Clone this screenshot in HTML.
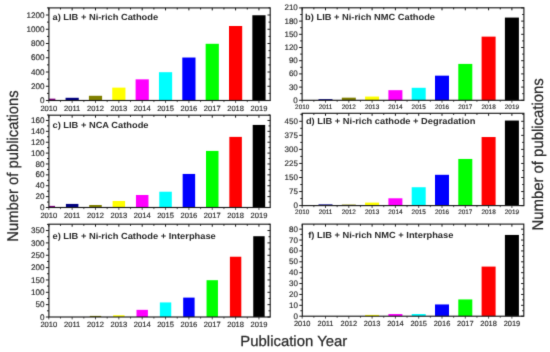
<!DOCTYPE html><html><head><meta charset="utf-8"><title>Publications per year</title>
<style>html,body{margin:0;padding:0;background:#fff}svg{display:block}text{font-family:"Liberation Sans",Arial,sans-serif;text-rendering:geometricPrecision}</style></head><body>
<svg width="550" height="352" viewBox="0 0 550 352">
<defs><filter id="soft" x="0" y="0" width="550" height="352" filterUnits="userSpaceOnUse" color-interpolation-filters="sRGB"><feConvolveMatrix order="3" kernelMatrix="0.0113 0.0836 0.0113 0.0836 0.6196 0.0836 0.0113 0.0836 0.0113" divisor="1" edgeMode="duplicate" preserveAlpha="false"/></filter></defs>
<rect width="550" height="352" fill="#fff"/>
<g filter="url(#soft)">
<rect width="550" height="352" fill="#fff"/>
<g id="panel-a">
<rect x="48.90" y="98.64" width="6.50" height="1.86" fill="#800080"/>
<rect x="65.55" y="97.78" width="13.20" height="2.72" fill="#000080"/>
<rect x="88.90" y="95.78" width="13.20" height="4.72" fill="#808000"/>
<rect x="112.25" y="87.63" width="13.20" height="12.87" fill="#ffff00"/>
<rect x="135.60" y="79.34" width="13.20" height="21.16" fill="#ff00ff"/>
<rect x="158.95" y="72.19" width="13.20" height="28.31" fill="#00ffff"/>
<rect x="182.30" y="57.53" width="13.20" height="42.97" fill="#0000ff"/>
<rect x="205.65" y="43.80" width="13.20" height="56.70" fill="#00ff00"/>
<rect x="229.00" y="26.00" width="13.20" height="74.50" fill="#ff0000"/>
<rect x="252.35" y="15.27" width="13.20" height="85.23" fill="#000000"/>
<rect x="48.90" y="7.90" width="221.30" height="92.60" fill="none" stroke="#1c1c1c" stroke-width="1.15"/>
<path d="M48.80 7.90v2.5 M60.47 7.90v1.6 M72.15 7.90v2.5 M83.83 7.90v1.6 M95.50 7.90v2.5 M107.17 7.90v1.6 M118.85 7.90v2.5 M130.53 7.90v1.6 M142.20 7.90v2.5 M153.88 7.90v1.6 M165.55 7.90v2.5 M177.23 7.90v1.6 M188.90 7.90v2.5 M200.58 7.90v1.6 M212.25 7.90v2.5 M223.93 7.90v1.6 M235.60 7.90v2.5 M247.28 7.90v1.6 M258.95 7.90v2.5 M48.90 100.50h-3 M270.20 100.50h-2.7 M48.90 93.38h-1.9 M270.20 93.38h-1.7 M48.90 86.25h-3 M270.20 86.25h-2.7 M48.90 79.12h-1.9 M270.20 79.12h-1.7 M48.90 72.00h-3 M270.20 72.00h-2.7 M48.90 64.88h-1.9 M270.20 64.88h-1.7 M48.90 57.75h-3 M270.20 57.75h-2.7 M48.90 50.63h-1.9 M270.20 50.63h-1.7 M48.90 43.50h-3 M270.20 43.50h-2.7 M48.90 36.38h-1.9 M270.20 36.38h-1.7 M48.90 29.25h-3 M270.20 29.25h-2.7 M48.90 22.12h-1.9 M270.20 22.12h-1.7 M48.90 15.00h-3 M270.20 15.00h-2.7 M48.90 7.88h-1.9 M270.20 7.88h-1.7" stroke="#1c1c1c" stroke-width="1" fill="none"/>
<path d="M48.80 100.50v2.4 M60.47 100.50v1.6 M72.15 100.50v2.4 M83.83 100.50v1.6 M95.50 100.50v2.4 M107.17 100.50v1.6 M118.85 100.50v2.4 M130.53 100.50v1.6 M142.20 100.50v2.4 M153.88 100.50v1.6 M165.55 100.50v2.4 M177.23 100.50v1.6 M188.90 100.50v2.4 M200.58 100.50v1.6 M212.25 100.50v2.4 M223.93 100.50v1.6 M235.60 100.50v2.4 M247.28 100.50v1.6 M258.95 100.50v2.4" stroke="#1c1c1c" stroke-width="0.75" fill="none"/>
<text x="44.55" y="103.12" font-size="8.15" text-anchor="end" fill="#2a2a2a" stroke="#2a2a2a" stroke-width="0.15">0</text>
<text x="44.55" y="88.87" font-size="8.15" text-anchor="end" fill="#2a2a2a" stroke="#2a2a2a" stroke-width="0.15">200</text>
<text x="44.55" y="74.62" font-size="8.15" text-anchor="end" fill="#2a2a2a" stroke="#2a2a2a" stroke-width="0.15">400</text>
<text x="44.55" y="60.37" font-size="8.15" text-anchor="end" fill="#2a2a2a" stroke="#2a2a2a" stroke-width="0.15">600</text>
<text x="44.55" y="46.12" font-size="8.15" text-anchor="end" fill="#2a2a2a" stroke="#2a2a2a" stroke-width="0.15">800</text>
<text x="44.55" y="31.87" font-size="8.15" text-anchor="end" fill="#2a2a2a" stroke="#2a2a2a" stroke-width="0.15">1000</text>
<text x="44.55" y="17.62" font-size="8.15" text-anchor="end" fill="#2a2a2a" stroke="#2a2a2a" stroke-width="0.15">1200</text>
<text x="48.80" y="110.70" font-size="7.55" text-anchor="middle" fill="#2a2a2a" stroke="#2a2a2a" stroke-width="0.15">2010</text>
<text x="72.15" y="110.70" font-size="7.55" text-anchor="middle" fill="#2a2a2a" stroke="#2a2a2a" stroke-width="0.15">2011</text>
<text x="95.50" y="110.70" font-size="7.55" text-anchor="middle" fill="#2a2a2a" stroke="#2a2a2a" stroke-width="0.15">2012</text>
<text x="118.85" y="110.70" font-size="7.55" text-anchor="middle" fill="#2a2a2a" stroke="#2a2a2a" stroke-width="0.15">2013</text>
<text x="142.20" y="110.70" font-size="7.55" text-anchor="middle" fill="#2a2a2a" stroke="#2a2a2a" stroke-width="0.15">2014</text>
<text x="165.55" y="110.70" font-size="7.55" text-anchor="middle" fill="#2a2a2a" stroke="#2a2a2a" stroke-width="0.15">2015</text>
<text x="188.90" y="110.70" font-size="7.55" text-anchor="middle" fill="#2a2a2a" stroke="#2a2a2a" stroke-width="0.15">2016</text>
<text x="212.25" y="110.70" font-size="7.55" text-anchor="middle" fill="#2a2a2a" stroke="#2a2a2a" stroke-width="0.15">2017</text>
<text x="235.60" y="110.70" font-size="7.55" text-anchor="middle" fill="#2a2a2a" stroke="#2a2a2a" stroke-width="0.15">2018</text>
<text x="258.95" y="110.70" font-size="7.55" text-anchor="middle" fill="#2a2a2a" stroke="#2a2a2a" stroke-width="0.15">2019</text>
<text transform="translate(52.50 20.10) scale(1.057 1)" font-size="8.8" font-weight="bold" fill="#2a2a2a">a) LIB + Ni-rich Cathode</text>
</g>
<g id="panel-c">
<rect x="48.90" y="205.87" width="6.15" height="1.63" fill="#800080"/>
<rect x="65.90" y="203.91" width="12.50" height="3.59" fill="#000080"/>
<rect x="89.25" y="205.00" width="12.50" height="2.50" fill="#808000"/>
<rect x="112.60" y="200.97" width="12.50" height="6.53" fill="#ffff00"/>
<rect x="135.95" y="194.99" width="12.50" height="12.51" fill="#ff00ff"/>
<rect x="159.30" y="191.72" width="12.50" height="15.78" fill="#00ffff"/>
<rect x="182.65" y="173.94" width="12.50" height="33.56" fill="#0000ff"/>
<rect x="206.00" y="150.92" width="12.50" height="56.58" fill="#00ff00"/>
<rect x="229.35" y="136.89" width="12.50" height="70.61" fill="#ff0000"/>
<rect x="252.70" y="124.92" width="12.50" height="82.58" fill="#000000"/>
<rect x="48.90" y="115.20" width="221.30" height="92.30" fill="none" stroke="#1c1c1c" stroke-width="1.15"/>
<path d="M48.80 115.20v2.5 M60.47 115.20v1.6 M72.15 115.20v2.5 M83.83 115.20v1.6 M95.50 115.20v2.5 M107.17 115.20v1.6 M118.85 115.20v2.5 M130.53 115.20v1.6 M142.20 115.20v2.5 M153.88 115.20v1.6 M165.55 115.20v2.5 M177.23 115.20v1.6 M188.90 115.20v2.5 M200.58 115.20v1.6 M212.25 115.20v2.5 M223.93 115.20v1.6 M235.60 115.20v2.5 M247.28 115.20v1.6 M258.95 115.20v2.5 M48.90 207.50h-3 M270.20 207.50h-2.7 M48.90 202.06h-1.9 M270.20 202.06h-1.7 M48.90 196.62h-3 M270.20 196.62h-2.7 M48.90 191.18h-1.9 M270.20 191.18h-1.7 M48.90 185.74h-3 M270.20 185.74h-2.7 M48.90 180.30h-1.9 M270.20 180.30h-1.7 M48.90 174.86h-3 M270.20 174.86h-2.7 M48.90 169.42h-1.9 M270.20 169.42h-1.7 M48.90 163.98h-3 M270.20 163.98h-2.7 M48.90 158.54h-1.9 M270.20 158.54h-1.7 M48.90 153.10h-3 M270.20 153.10h-2.7 M48.90 147.66h-1.9 M270.20 147.66h-1.7 M48.90 142.22h-3 M270.20 142.22h-2.7 M48.90 136.78h-1.9 M270.20 136.78h-1.7 M48.90 131.34h-3 M270.20 131.34h-2.7 M48.90 125.90h-1.9 M270.20 125.90h-1.7 M48.90 120.46h-3 M270.20 120.46h-2.7 M48.90 115.02h-1.9 M270.20 115.02h-1.7" stroke="#1c1c1c" stroke-width="1" fill="none"/>
<path d="M48.80 207.50v2.4 M60.47 207.50v1.6 M72.15 207.50v2.4 M83.83 207.50v1.6 M95.50 207.50v2.4 M107.17 207.50v1.6 M118.85 207.50v2.4 M130.53 207.50v1.6 M142.20 207.50v2.4 M153.88 207.50v1.6 M165.55 207.50v2.4 M177.23 207.50v1.6 M188.90 207.50v2.4 M200.58 207.50v1.6 M212.25 207.50v2.4 M223.93 207.50v1.6 M235.60 207.50v2.4 M247.28 207.50v1.6 M258.95 207.50v2.4" stroke="#1c1c1c" stroke-width="0.75" fill="none"/>
<text x="44.55" y="210.12" font-size="8.15" text-anchor="end" fill="#2a2a2a" stroke="#2a2a2a" stroke-width="0.15">0</text>
<text x="44.55" y="199.24" font-size="8.15" text-anchor="end" fill="#2a2a2a" stroke="#2a2a2a" stroke-width="0.15">20</text>
<text x="44.55" y="188.36" font-size="8.15" text-anchor="end" fill="#2a2a2a" stroke="#2a2a2a" stroke-width="0.15">40</text>
<text x="44.55" y="177.48" font-size="8.15" text-anchor="end" fill="#2a2a2a" stroke="#2a2a2a" stroke-width="0.15">60</text>
<text x="44.55" y="166.60" font-size="8.15" text-anchor="end" fill="#2a2a2a" stroke="#2a2a2a" stroke-width="0.15">80</text>
<text x="44.55" y="155.72" font-size="8.15" text-anchor="end" fill="#2a2a2a" stroke="#2a2a2a" stroke-width="0.15">100</text>
<text x="44.55" y="144.84" font-size="8.15" text-anchor="end" fill="#2a2a2a" stroke="#2a2a2a" stroke-width="0.15">120</text>
<text x="44.55" y="133.96" font-size="8.15" text-anchor="end" fill="#2a2a2a" stroke="#2a2a2a" stroke-width="0.15">140</text>
<text x="44.55" y="123.08" font-size="8.15" text-anchor="end" fill="#2a2a2a" stroke="#2a2a2a" stroke-width="0.15">160</text>
<text x="48.80" y="217.60" font-size="7.55" text-anchor="middle" fill="#2a2a2a" stroke="#2a2a2a" stroke-width="0.15">2010</text>
<text x="72.15" y="217.60" font-size="7.55" text-anchor="middle" fill="#2a2a2a" stroke="#2a2a2a" stroke-width="0.15">2011</text>
<text x="95.50" y="217.60" font-size="7.55" text-anchor="middle" fill="#2a2a2a" stroke="#2a2a2a" stroke-width="0.15">2012</text>
<text x="118.85" y="217.60" font-size="7.55" text-anchor="middle" fill="#2a2a2a" stroke="#2a2a2a" stroke-width="0.15">2013</text>
<text x="142.20" y="217.60" font-size="7.55" text-anchor="middle" fill="#2a2a2a" stroke="#2a2a2a" stroke-width="0.15">2014</text>
<text x="165.55" y="217.60" font-size="7.55" text-anchor="middle" fill="#2a2a2a" stroke="#2a2a2a" stroke-width="0.15">2015</text>
<text x="188.90" y="217.60" font-size="7.55" text-anchor="middle" fill="#2a2a2a" stroke="#2a2a2a" stroke-width="0.15">2016</text>
<text x="212.25" y="217.60" font-size="7.55" text-anchor="middle" fill="#2a2a2a" stroke="#2a2a2a" stroke-width="0.15">2017</text>
<text x="235.60" y="217.60" font-size="7.55" text-anchor="middle" fill="#2a2a2a" stroke="#2a2a2a" stroke-width="0.15">2018</text>
<text x="258.95" y="217.60" font-size="7.55" text-anchor="middle" fill="#2a2a2a" stroke="#2a2a2a" stroke-width="0.15">2019</text>
<text transform="translate(52.50 127.90) scale(1.057 1)" font-size="8.8" font-weight="bold" fill="#2a2a2a">c) LIB + NCA Cathode</text>
</g>
<g id="panel-e">
<rect x="89.80" y="315.89" width="11.40" height="1.11" fill="#808000"/>
<rect x="113.15" y="315.27" width="11.40" height="1.73" fill="#ffff00"/>
<rect x="136.50" y="309.84" width="11.40" height="7.16" fill="#ff00ff"/>
<rect x="159.85" y="302.43" width="11.40" height="14.57" fill="#00ffff"/>
<rect x="183.20" y="297.61" width="11.40" height="19.39" fill="#0000ff"/>
<rect x="206.55" y="280.20" width="11.40" height="36.80" fill="#00ff00"/>
<rect x="229.90" y="256.73" width="11.40" height="60.27" fill="#ff0000"/>
<rect x="253.25" y="236.23" width="11.40" height="80.77" fill="#000000"/>
<rect x="48.90" y="224.20" width="221.30" height="92.80" fill="none" stroke="#1c1c1c" stroke-width="1.15"/>
<path d="M48.80 224.20v2.5 M60.47 224.20v1.6 M72.15 224.20v2.5 M83.83 224.20v1.6 M95.50 224.20v2.5 M107.17 224.20v1.6 M118.85 224.20v2.5 M130.53 224.20v1.6 M142.20 224.20v2.5 M153.88 224.20v1.6 M165.55 224.20v2.5 M177.23 224.20v1.6 M188.90 224.20v2.5 M200.58 224.20v1.6 M212.25 224.20v2.5 M223.93 224.20v1.6 M235.60 224.20v2.5 M247.28 224.20v1.6 M258.95 224.20v2.5 M48.90 317.00h-3 M270.20 317.00h-2.7 M48.90 310.82h-1.9 M270.20 310.82h-1.7 M48.90 304.65h-3 M270.20 304.65h-2.7 M48.90 298.48h-1.9 M270.20 298.48h-1.7 M48.90 292.30h-3 M270.20 292.30h-2.7 M48.90 286.12h-1.9 M270.20 286.12h-1.7 M48.90 279.95h-3 M270.20 279.95h-2.7 M48.90 273.77h-1.9 M270.20 273.77h-1.7 M48.90 267.60h-3 M270.20 267.60h-2.7 M48.90 261.43h-1.9 M270.20 261.43h-1.7 M48.90 255.25h-3 M270.20 255.25h-2.7 M48.90 249.07h-1.9 M270.20 249.07h-1.7 M48.90 242.90h-3 M270.20 242.90h-2.7 M48.90 236.72h-1.9 M270.20 236.72h-1.7 M48.90 230.55h-3 M270.20 230.55h-2.7 M48.90 224.38h-1.9 M270.20 224.38h-1.7" stroke="#1c1c1c" stroke-width="1" fill="none"/>
<path d="M48.80 317.00v2.4 M60.47 317.00v1.6 M72.15 317.00v2.4 M83.83 317.00v1.6 M95.50 317.00v2.4 M107.17 317.00v1.6 M118.85 317.00v2.4 M130.53 317.00v1.6 M142.20 317.00v2.4 M153.88 317.00v1.6 M165.55 317.00v2.4 M177.23 317.00v1.6 M188.90 317.00v2.4 M200.58 317.00v1.6 M212.25 317.00v2.4 M223.93 317.00v1.6 M235.60 317.00v2.4 M247.28 317.00v1.6 M258.95 317.00v2.4" stroke="#1c1c1c" stroke-width="0.75" fill="none"/>
<text x="44.55" y="319.62" font-size="8.15" text-anchor="end" fill="#2a2a2a" stroke="#2a2a2a" stroke-width="0.15">0</text>
<text x="44.55" y="307.27" font-size="8.15" text-anchor="end" fill="#2a2a2a" stroke="#2a2a2a" stroke-width="0.15">50</text>
<text x="44.55" y="294.92" font-size="8.15" text-anchor="end" fill="#2a2a2a" stroke="#2a2a2a" stroke-width="0.15">100</text>
<text x="44.55" y="282.57" font-size="8.15" text-anchor="end" fill="#2a2a2a" stroke="#2a2a2a" stroke-width="0.15">150</text>
<text x="44.55" y="270.22" font-size="8.15" text-anchor="end" fill="#2a2a2a" stroke="#2a2a2a" stroke-width="0.15">200</text>
<text x="44.55" y="257.87" font-size="8.15" text-anchor="end" fill="#2a2a2a" stroke="#2a2a2a" stroke-width="0.15">250</text>
<text x="44.55" y="245.52" font-size="8.15" text-anchor="end" fill="#2a2a2a" stroke="#2a2a2a" stroke-width="0.15">300</text>
<text x="44.55" y="233.17" font-size="8.15" text-anchor="end" fill="#2a2a2a" stroke="#2a2a2a" stroke-width="0.15">350</text>
<text x="48.80" y="327.40" font-size="7.55" text-anchor="middle" fill="#2a2a2a" stroke="#2a2a2a" stroke-width="0.15">2010</text>
<text x="72.15" y="327.40" font-size="7.55" text-anchor="middle" fill="#2a2a2a" stroke="#2a2a2a" stroke-width="0.15">2011</text>
<text x="95.50" y="327.40" font-size="7.55" text-anchor="middle" fill="#2a2a2a" stroke="#2a2a2a" stroke-width="0.15">2012</text>
<text x="118.85" y="327.40" font-size="7.55" text-anchor="middle" fill="#2a2a2a" stroke="#2a2a2a" stroke-width="0.15">2013</text>
<text x="142.20" y="327.40" font-size="7.55" text-anchor="middle" fill="#2a2a2a" stroke="#2a2a2a" stroke-width="0.15">2014</text>
<text x="165.55" y="327.40" font-size="7.55" text-anchor="middle" fill="#2a2a2a" stroke="#2a2a2a" stroke-width="0.15">2015</text>
<text x="188.90" y="327.40" font-size="7.55" text-anchor="middle" fill="#2a2a2a" stroke="#2a2a2a" stroke-width="0.15">2016</text>
<text x="212.25" y="327.40" font-size="7.55" text-anchor="middle" fill="#2a2a2a" stroke="#2a2a2a" stroke-width="0.15">2017</text>
<text x="235.60" y="327.40" font-size="7.55" text-anchor="middle" fill="#2a2a2a" stroke="#2a2a2a" stroke-width="0.15">2018</text>
<text x="258.95" y="327.40" font-size="7.55" text-anchor="middle" fill="#2a2a2a" stroke="#2a2a2a" stroke-width="0.15">2019</text>
<text transform="translate(52.50 238.80) scale(1.057 1)" font-size="8.8" font-weight="bold" fill="#2a2a2a">e) LIB + Ni-rich Cathode + Interphase</text>
</g>
<g id="panel-b">
<rect x="318.50" y="99.16" width="14.00" height="1.14" fill="#000080"/>
<rect x="341.80" y="97.66" width="14.00" height="2.64" fill="#808000"/>
<rect x="365.10" y="96.56" width="14.00" height="3.74" fill="#ffff00"/>
<rect x="388.40" y="90.18" width="14.00" height="10.12" fill="#ff00ff"/>
<rect x="411.70" y="87.80" width="14.00" height="12.50" fill="#00ffff"/>
<rect x="435.00" y="75.66" width="14.00" height="24.64" fill="#0000ff"/>
<rect x="458.30" y="63.91" width="14.00" height="36.39" fill="#00ff00"/>
<rect x="481.60" y="36.63" width="14.00" height="63.67" fill="#ff0000"/>
<rect x="504.90" y="17.58" width="14.00" height="82.72" fill="#000000"/>
<rect x="302.10" y="7.80" width="221.80" height="92.50" fill="none" stroke="#1c1c1c" stroke-width="1.15"/>
<path d="M302.20 7.80v2.5 M313.85 7.80v1.6 M325.50 7.80v2.5 M337.15 7.80v1.6 M348.80 7.80v2.5 M360.45 7.80v1.6 M372.10 7.80v2.5 M383.75 7.80v1.6 M395.40 7.80v2.5 M407.05 7.80v1.6 M418.70 7.80v2.5 M430.35 7.80v1.6 M442.00 7.80v2.5 M453.65 7.80v1.6 M465.30 7.80v2.5 M476.95 7.80v1.6 M488.60 7.80v2.5 M500.25 7.80v1.6 M511.90 7.80v2.5 M302.10 100.30h-3 M523.90 100.30h-2.7 M302.10 93.70h-1.9 M523.90 93.70h-1.7 M302.10 87.10h-3 M523.90 87.10h-2.7 M302.10 80.50h-1.9 M523.90 80.50h-1.7 M302.10 73.90h-3 M523.90 73.90h-2.7 M302.10 67.30h-1.9 M523.90 67.30h-1.7 M302.10 60.70h-3 M523.90 60.70h-2.7 M302.10 54.10h-1.9 M523.90 54.10h-1.7 M302.10 47.50h-3 M523.90 47.50h-2.7 M302.10 40.90h-1.9 M523.90 40.90h-1.7 M302.10 34.30h-3 M523.90 34.30h-2.7 M302.10 27.70h-1.9 M523.90 27.70h-1.7 M302.10 21.10h-3 M523.90 21.10h-2.7 M302.10 14.50h-1.9 M523.90 14.50h-1.7 M302.10 7.90h-3 M523.90 7.90h-2.7" stroke="#1c1c1c" stroke-width="1" fill="none"/>
<path d="M302.20 100.30v2.4 M313.85 100.30v1.6 M325.50 100.30v2.4 M337.15 100.30v1.6 M348.80 100.30v2.4 M360.45 100.30v1.6 M372.10 100.30v2.4 M383.75 100.30v1.6 M395.40 100.30v2.4 M407.05 100.30v1.6 M418.70 100.30v2.4 M430.35 100.30v1.6 M442.00 100.30v2.4 M453.65 100.30v1.6 M465.30 100.30v2.4 M476.95 100.30v1.6 M488.60 100.30v2.4 M500.25 100.30v1.6 M511.90 100.30v2.4" stroke="#1c1c1c" stroke-width="0.75" fill="none"/>
<text x="297.80" y="102.86" font-size="8.0" text-anchor="end" fill="#2a2a2a" stroke="#2a2a2a" stroke-width="0.15">0</text>
<text x="297.80" y="89.66" font-size="8.0" text-anchor="end" fill="#2a2a2a" stroke="#2a2a2a" stroke-width="0.15">30</text>
<text x="297.80" y="76.46" font-size="8.0" text-anchor="end" fill="#2a2a2a" stroke="#2a2a2a" stroke-width="0.15">60</text>
<text x="297.80" y="63.26" font-size="8.0" text-anchor="end" fill="#2a2a2a" stroke="#2a2a2a" stroke-width="0.15">90</text>
<text x="297.80" y="50.06" font-size="8.0" text-anchor="end" fill="#2a2a2a" stroke="#2a2a2a" stroke-width="0.15">120</text>
<text x="297.80" y="36.86" font-size="8.0" text-anchor="end" fill="#2a2a2a" stroke="#2a2a2a" stroke-width="0.15">150</text>
<text x="297.80" y="23.66" font-size="8.0" text-anchor="end" fill="#2a2a2a" stroke="#2a2a2a" stroke-width="0.15">180</text>
<text x="297.80" y="10.46" font-size="8.0" text-anchor="end" fill="#2a2a2a" stroke="#2a2a2a" stroke-width="0.15">210</text>
<text x="302.20" y="109.20" font-size="6.4" text-anchor="middle" fill="#2a2a2a" stroke="#2a2a2a" stroke-width="0.15">2010</text>
<text x="325.50" y="109.20" font-size="6.4" text-anchor="middle" fill="#2a2a2a" stroke="#2a2a2a" stroke-width="0.15">2011</text>
<text x="348.80" y="109.20" font-size="6.4" text-anchor="middle" fill="#2a2a2a" stroke="#2a2a2a" stroke-width="0.15">2012</text>
<text x="372.10" y="109.20" font-size="6.4" text-anchor="middle" fill="#2a2a2a" stroke="#2a2a2a" stroke-width="0.15">2013</text>
<text x="395.40" y="109.20" font-size="6.4" text-anchor="middle" fill="#2a2a2a" stroke="#2a2a2a" stroke-width="0.15">2014</text>
<text x="418.70" y="109.20" font-size="6.4" text-anchor="middle" fill="#2a2a2a" stroke="#2a2a2a" stroke-width="0.15">2015</text>
<text x="442.00" y="109.20" font-size="6.4" text-anchor="middle" fill="#2a2a2a" stroke="#2a2a2a" stroke-width="0.15">2016</text>
<text x="465.30" y="109.20" font-size="6.4" text-anchor="middle" fill="#2a2a2a" stroke="#2a2a2a" stroke-width="0.15">2017</text>
<text x="488.60" y="109.20" font-size="6.4" text-anchor="middle" fill="#2a2a2a" stroke="#2a2a2a" stroke-width="0.15">2018</text>
<text x="511.90" y="109.20" font-size="6.4" text-anchor="middle" fill="#2a2a2a" stroke="#2a2a2a" stroke-width="0.15">2019</text>
<text transform="translate(305.10 19.90) scale(1.057 1)" font-size="8.8" font-weight="bold" fill="#2a2a2a">b) LIB + Ni-rich NMC Cathode</text>
</g>
<g id="panel-d">
<rect x="318.50" y="204.38" width="14.00" height="1.22" fill="#000080"/>
<rect x="341.80" y="204.57" width="14.00" height="1.03" fill="#808000"/>
<rect x="365.10" y="202.60" width="14.00" height="3.00" fill="#ffff00"/>
<rect x="388.40" y="198.29" width="14.00" height="7.31" fill="#ff00ff"/>
<rect x="411.70" y="187.24" width="14.00" height="18.36" fill="#00ffff"/>
<rect x="435.00" y="174.80" width="14.00" height="30.80" fill="#0000ff"/>
<rect x="458.30" y="158.95" width="14.00" height="46.65" fill="#00ff00"/>
<rect x="481.60" y="137.04" width="14.00" height="68.56" fill="#ff0000"/>
<rect x="504.90" y="120.55" width="14.00" height="85.05" fill="#000000"/>
<rect x="302.20" y="113.30" width="221.70" height="92.30" fill="none" stroke="#1c1c1c" stroke-width="1.15"/>
<path d="M302.20 113.30v2.5 M313.85 113.30v1.6 M325.50 113.30v2.5 M337.15 113.30v1.6 M348.80 113.30v2.5 M360.45 113.30v1.6 M372.10 113.30v2.5 M383.75 113.30v1.6 M395.40 113.30v2.5 M407.05 113.30v1.6 M418.70 113.30v2.5 M430.35 113.30v1.6 M442.00 113.30v2.5 M453.65 113.30v1.6 M465.30 113.30v2.5 M476.95 113.30v1.6 M488.60 113.30v2.5 M500.25 113.30v1.6 M511.90 113.30v2.5 M302.20 205.60h-3 M523.90 205.60h-2.7 M302.20 198.57h-1.9 M523.90 198.57h-1.7 M302.20 191.55h-3 M523.90 191.55h-2.7 M302.20 184.52h-1.9 M523.90 184.52h-1.7 M302.20 177.50h-3 M523.90 177.50h-2.7 M302.20 170.47h-1.9 M523.90 170.47h-1.7 M302.20 163.45h-3 M523.90 163.45h-2.7 M302.20 156.42h-1.9 M523.90 156.42h-1.7 M302.20 149.40h-3 M523.90 149.40h-2.7 M302.20 142.38h-1.9 M523.90 142.38h-1.7 M302.20 135.35h-3 M523.90 135.35h-2.7 M302.20 128.32h-1.9 M523.90 128.32h-1.7 M302.20 121.30h-3 M523.90 121.30h-2.7 M302.20 114.27h-1.9 M523.90 114.27h-1.7" stroke="#1c1c1c" stroke-width="1" fill="none"/>
<path d="M302.20 205.60v2.4 M313.85 205.60v1.6 M325.50 205.60v2.4 M337.15 205.60v1.6 M348.80 205.60v2.4 M360.45 205.60v1.6 M372.10 205.60v2.4 M383.75 205.60v1.6 M395.40 205.60v2.4 M407.05 205.60v1.6 M418.70 205.60v2.4 M430.35 205.60v1.6 M442.00 205.60v2.4 M453.65 205.60v1.6 M465.30 205.60v2.4 M476.95 205.60v1.6 M488.60 205.60v2.4 M500.25 205.60v1.6 M511.90 205.60v2.4" stroke="#1c1c1c" stroke-width="0.75" fill="none"/>
<text x="297.90" y="208.16" font-size="8.0" text-anchor="end" fill="#2a2a2a" stroke="#2a2a2a" stroke-width="0.15">0</text>
<text x="297.90" y="194.11" font-size="8.0" text-anchor="end" fill="#2a2a2a" stroke="#2a2a2a" stroke-width="0.15">75</text>
<text x="297.90" y="180.06" font-size="8.0" text-anchor="end" fill="#2a2a2a" stroke="#2a2a2a" stroke-width="0.15">150</text>
<text x="297.90" y="166.01" font-size="8.0" text-anchor="end" fill="#2a2a2a" stroke="#2a2a2a" stroke-width="0.15">225</text>
<text x="297.90" y="151.96" font-size="8.0" text-anchor="end" fill="#2a2a2a" stroke="#2a2a2a" stroke-width="0.15">300</text>
<text x="297.90" y="137.91" font-size="8.0" text-anchor="end" fill="#2a2a2a" stroke="#2a2a2a" stroke-width="0.15">375</text>
<text x="297.90" y="123.86" font-size="8.0" text-anchor="end" fill="#2a2a2a" stroke="#2a2a2a" stroke-width="0.15">450</text>
<text x="302.20" y="213.90" font-size="6.4" text-anchor="middle" fill="#2a2a2a" stroke="#2a2a2a" stroke-width="0.15">2010</text>
<text x="325.50" y="213.90" font-size="6.4" text-anchor="middle" fill="#2a2a2a" stroke="#2a2a2a" stroke-width="0.15">2011</text>
<text x="348.80" y="213.90" font-size="6.4" text-anchor="middle" fill="#2a2a2a" stroke="#2a2a2a" stroke-width="0.15">2012</text>
<text x="372.10" y="213.90" font-size="6.4" text-anchor="middle" fill="#2a2a2a" stroke="#2a2a2a" stroke-width="0.15">2013</text>
<text x="395.40" y="213.90" font-size="6.4" text-anchor="middle" fill="#2a2a2a" stroke="#2a2a2a" stroke-width="0.15">2014</text>
<text x="418.70" y="213.90" font-size="6.4" text-anchor="middle" fill="#2a2a2a" stroke="#2a2a2a" stroke-width="0.15">2015</text>
<text x="442.00" y="213.90" font-size="6.4" text-anchor="middle" fill="#2a2a2a" stroke="#2a2a2a" stroke-width="0.15">2016</text>
<text x="465.30" y="213.90" font-size="6.4" text-anchor="middle" fill="#2a2a2a" stroke="#2a2a2a" stroke-width="0.15">2017</text>
<text x="488.60" y="213.90" font-size="6.4" text-anchor="middle" fill="#2a2a2a" stroke="#2a2a2a" stroke-width="0.15">2018</text>
<text x="511.90" y="213.90" font-size="6.4" text-anchor="middle" fill="#2a2a2a" stroke="#2a2a2a" stroke-width="0.15">2019</text>
<text transform="translate(305.90 124.20) scale(1.057 1)" font-size="8.8" font-weight="bold" fill="#2a2a2a">d) LIB + Ni-rich cathode + Degradation</text>
</g>
<g id="panel-f">
<rect x="365.10" y="314.89" width="14.00" height="1.31" fill="#ffff00"/>
<rect x="388.40" y="314.02" width="14.00" height="2.18" fill="#ff00ff"/>
<rect x="411.70" y="314.02" width="14.00" height="2.18" fill="#00ffff"/>
<rect x="435.00" y="304.45" width="14.00" height="11.75" fill="#0000ff"/>
<rect x="458.30" y="299.44" width="14.00" height="16.76" fill="#00ff00"/>
<rect x="481.60" y="266.59" width="14.00" height="49.61" fill="#ff0000"/>
<rect x="504.90" y="234.93" width="14.00" height="81.27" fill="#000000"/>
<rect x="302.30" y="224.10" width="221.50" height="92.10" fill="none" stroke="#1c1c1c" stroke-width="1.15"/>
<path d="M302.20 224.10v2.5 M313.85 224.10v1.6 M325.50 224.10v2.5 M337.15 224.10v1.6 M348.80 224.10v2.5 M360.45 224.10v1.6 M372.10 224.10v2.5 M383.75 224.10v1.6 M395.40 224.10v2.5 M407.05 224.10v1.6 M418.70 224.10v2.5 M430.35 224.10v1.6 M442.00 224.10v2.5 M453.65 224.10v1.6 M465.30 224.10v2.5 M476.95 224.10v1.6 M488.60 224.10v2.5 M500.25 224.10v1.6 M511.90 224.10v2.5 M302.30 316.20h-3 M523.80 316.20h-2.7 M302.30 310.76h-1.9 M523.80 310.76h-1.7 M302.30 305.32h-3 M523.80 305.32h-2.7 M302.30 299.88h-1.9 M523.80 299.88h-1.7 M302.30 294.44h-3 M523.80 294.44h-2.7 M302.30 289.00h-1.9 M523.80 289.00h-1.7 M302.30 283.56h-3 M523.80 283.56h-2.7 M302.30 278.12h-1.9 M523.80 278.12h-1.7 M302.30 272.68h-3 M523.80 272.68h-2.7 M302.30 267.24h-1.9 M523.80 267.24h-1.7 M302.30 261.80h-3 M523.80 261.80h-2.7 M302.30 256.36h-1.9 M523.80 256.36h-1.7 M302.30 250.92h-3 M523.80 250.92h-2.7 M302.30 245.48h-1.9 M523.80 245.48h-1.7 M302.30 240.04h-3 M523.80 240.04h-2.7 M302.30 234.60h-1.9 M523.80 234.60h-1.7 M302.30 229.16h-3 M523.80 229.16h-2.7" stroke="#1c1c1c" stroke-width="1" fill="none"/>
<path d="M302.20 316.20v2.4 M313.85 316.20v1.6 M325.50 316.20v2.4 M337.15 316.20v1.6 M348.80 316.20v2.4 M360.45 316.20v1.6 M372.10 316.20v2.4 M383.75 316.20v1.6 M395.40 316.20v2.4 M407.05 316.20v1.6 M418.70 316.20v2.4 M430.35 316.20v1.6 M442.00 316.20v2.4 M453.65 316.20v1.6 M465.30 316.20v2.4 M476.95 316.20v1.6 M488.60 316.20v2.4 M500.25 316.20v1.6 M511.90 316.20v2.4" stroke="#1c1c1c" stroke-width="0.75" fill="none"/>
<text x="298.00" y="318.76" font-size="8.0" text-anchor="end" fill="#2a2a2a" stroke="#2a2a2a" stroke-width="0.15">0</text>
<text x="298.00" y="307.88" font-size="8.0" text-anchor="end" fill="#2a2a2a" stroke="#2a2a2a" stroke-width="0.15">10</text>
<text x="298.00" y="297.00" font-size="8.0" text-anchor="end" fill="#2a2a2a" stroke="#2a2a2a" stroke-width="0.15">20</text>
<text x="298.00" y="286.12" font-size="8.0" text-anchor="end" fill="#2a2a2a" stroke="#2a2a2a" stroke-width="0.15">30</text>
<text x="298.00" y="275.24" font-size="8.0" text-anchor="end" fill="#2a2a2a" stroke="#2a2a2a" stroke-width="0.15">40</text>
<text x="298.00" y="264.36" font-size="8.0" text-anchor="end" fill="#2a2a2a" stroke="#2a2a2a" stroke-width="0.15">50</text>
<text x="298.00" y="253.48" font-size="8.0" text-anchor="end" fill="#2a2a2a" stroke="#2a2a2a" stroke-width="0.15">60</text>
<text x="298.00" y="242.60" font-size="8.0" text-anchor="end" fill="#2a2a2a" stroke="#2a2a2a" stroke-width="0.15">70</text>
<text x="298.00" y="231.72" font-size="8.0" text-anchor="end" fill="#2a2a2a" stroke="#2a2a2a" stroke-width="0.15">80</text>
<text x="302.20" y="326.40" font-size="7.45" text-anchor="middle" fill="#2a2a2a" stroke="#2a2a2a" stroke-width="0.15">2010</text>
<text x="325.50" y="326.40" font-size="7.45" text-anchor="middle" fill="#2a2a2a" stroke="#2a2a2a" stroke-width="0.15">2011</text>
<text x="348.80" y="326.40" font-size="7.45" text-anchor="middle" fill="#2a2a2a" stroke="#2a2a2a" stroke-width="0.15">2012</text>
<text x="372.10" y="326.40" font-size="7.45" text-anchor="middle" fill="#2a2a2a" stroke="#2a2a2a" stroke-width="0.15">2013</text>
<text x="395.40" y="326.40" font-size="7.45" text-anchor="middle" fill="#2a2a2a" stroke="#2a2a2a" stroke-width="0.15">2014</text>
<text x="418.70" y="326.40" font-size="7.45" text-anchor="middle" fill="#2a2a2a" stroke="#2a2a2a" stroke-width="0.15">2015</text>
<text x="442.00" y="326.40" font-size="7.45" text-anchor="middle" fill="#2a2a2a" stroke="#2a2a2a" stroke-width="0.15">2016</text>
<text x="465.30" y="326.40" font-size="7.45" text-anchor="middle" fill="#2a2a2a" stroke="#2a2a2a" stroke-width="0.15">2017</text>
<text x="488.60" y="326.40" font-size="7.45" text-anchor="middle" fill="#2a2a2a" stroke="#2a2a2a" stroke-width="0.15">2018</text>
<text x="511.90" y="326.40" font-size="7.45" text-anchor="middle" fill="#2a2a2a" stroke="#2a2a2a" stroke-width="0.15">2019</text>
<text transform="translate(308.20 238.00) scale(1.057 1)" font-size="8.8" font-weight="bold" fill="#2a2a2a">f) LIB + Ni-rich NMC + Interphase</text>
</g>
<text transform="translate(17.7 166.0) rotate(-90) scale(0.955 1)" font-size="15.5" text-anchor="middle" fill="#2a2a2a" stroke="#2a2a2a" stroke-width="0.25">Number of publications</text>
<text transform="translate(543.2 154.4) rotate(-90) scale(0.961 1)" font-size="15.5" text-anchor="middle" fill="#2a2a2a" stroke="#2a2a2a" stroke-width="0.25">Number of publications</text>
<text transform="translate(293.8 345.6) scale(1.015 1)" font-size="14.7" text-anchor="middle" fill="#2a2a2a" stroke="#2a2a2a" stroke-width="0.25">Publication Year</text>
</g></svg></body></html>
